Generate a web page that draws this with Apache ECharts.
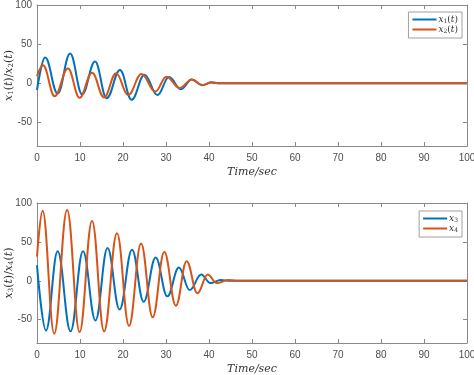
<!DOCTYPE html>
<html>
<head>
	<meta charset="utf-8">
	<script src="https://cdn.jsdelivr.net/npm/echarts@6/dist/echarts.min.js"></script>
</head>
<body style="margin:0;background:#fff">
	<div id="main" style="width:474px;height:375px;"></div>
<script type="text/javascript">
// values: extrema of each oscillation, then the flat tail
var x1Time = [0, 1.9, 4.8, 7.7, 10.5, 13.5, 16.2, 19.3, 22, 25, 28, 30.7, 33.5, 36, 38.4, 40.6, 42.5, 100];
var x1Val  = [-8.5, 33, -13, 38, -14, 28, -19, 17, -21, 11, -15, 8, -7.5, 5, -2.5, 1, 0, 0];
var x2Time = [0, 1.4, 4.1, 7.2, 9.9, 12.8, 15.6, 18.4, 21.2, 24.3, 27.5, 30.1, 33.2, 36, 38.5, 40.6, 42.5, 100];
var x2Val  = [9, 23, -16.5, 19, -18.5, 13.5, -18, 13, -15, 12, -10.5, 8.5, -6, 5, -2, 1.5, 0, 0];
var x3Time = [0, 2.1, 4.8, 7.8, 10.7, 13.6, 16.4, 19.2, 22.1, 24.8, 27.6, 30.3, 33, 35.5, 38.2, 40.3, 42.7, 45, 100];
var x3Val  = [20, -64, 38, -65, 38, -51, 42, -37, 40, -27, 30, -20, 17, -12, 8, -3, 1, 0, 0];
var x4Time = [0, 1.3, 4.0, 7.0, 9.9, 12.8, 15.6, 18.6, 21.4, 24.2, 26.9, 29.6, 32.3, 34.8, 37.3, 39.7, 41.8, 44.5, 47, 100];
var x4Val  = [31, 90, -68, 91, -66, 77, -65, 61, -58, 48, -47, 37, -32, 25, -16, 8, -3, 1, 0, 0];
var yTicks = [-50, 0, 50, 100];

function pairs(t, v){
	var out = [];
	for (var i = 0; i < t.length; i++) out.push([t[i], v[i]]);
	return out;
}

var blue = '#0072BD', orange = '#D95319';
var axisCol = '#8a8a8a', textCol = '#4d4d4d';
var mathRich = {
	i: {fontFamily: 'DejaVu Serif', fontStyle: 'italic', fontSize: 11, color: '#333'},
	n: {fontFamily: 'DejaVu Serif', fontSize: 11, color: '#333'},
	s: {fontFamily: 'DejaVu Serif', fontSize: 7, color: '#333', padding: [5, 0, 0, 0]}
};
var legRich = {
	i: {fontFamily: 'DejaVu Serif', fontStyle: 'italic', fontSize: 9, color: '#333', lineHeight: 11},
	n: {fontFamily: 'DejaVu Serif', fontSize: 9, color: '#333', lineHeight: 11},
	s: {fontFamily: 'DejaVu Serif', fontSize: 6, color: '#333', lineHeight: 11, padding: [3, 0, 0, 0]}
};

function xAx(gi, pos){
	var bottom = pos == 'bottom';
	return {
		type: 'value', gridIndex: gi, position: pos, min: 0, max: 100, interval: 10,
		axisLine: {show: true, onZero: false, lineStyle: {color: axisCol, width: 1}},
		axisTick: {show: true, inside: true, length: 4, lineStyle: {color: axisCol}},
		axisLabel: {show: bottom, margin: 7, color: textCol, fontSize: 10, fontFamily: 'Liberation Sans'},
		splitLine: {show: false},
		name: bottom ? '{i|Time/sec}' : '', nameLocation: 'middle', nameGap: 21, nameMoveOverlap: false,
		nameTextStyle: {rich: mathRich}
	};
}
function yAx(gi, pos, nm){
	var left = pos == 'left';
	return {
		type: 'value', gridIndex: gi, position: pos, min: -80, max: 100,
		axisLine: {show: true, onZero: false, lineStyle: {color: axisCol, width: 1}},
		axisTick: {show: true, inside: true, length: 4, customValues: yTicks, lineStyle: {color: axisCol}},
		axisLabel: {show: left, margin: 5, customValues: yTicks, color: textCol, fontSize: 10, fontFamily: 'Liberation Sans'},
		splitLine: {show: false},
		name: left ? nm : '', nameLocation: 'middle', nameGap: 22, nameRotate: 90, nameMoveOverlap: false,
		nameTextStyle: {rich: mathRich}
	};
}
function line(name, data, col, xi, yi){
	return {
		name: name, type: 'line', xAxisIndex: xi, yAxisIndex: yi, data: data,
		smooth: 0.4, smoothMonotone: 'x', symbol: 'none', animation: false,
		lineStyle: {color: col, width: 2}, itemStyle: {color: col}
	};
}
function legend(top, right, names){
	return {
		top: top, right: right, orient: 'vertical', data: names,
		icon: 'rect', itemWidth: 24, itemHeight: 2, itemGap: 1, padding: [3, 4, 4, 4],
		borderColor: '#a0a0a0', borderWidth: 1, borderRadius: 0, backgroundColor: '#fff',
		selectedMode: false,
		textStyle: {rich: legRich, padding: [0, 0, 0, -3]}
	};
}

var option = {
	backgroundColor: '#fff',
	grid: [
		{left: 37, right: 7, top: 5, height: 141, outerBoundsMode: 'none', containLabel: false},
		{left: 37, right: 7, top: 203, height: 140, outerBoundsMode: 'none', containLabel: false}
	],
	xAxis: [xAx(0, 'bottom'), xAx(0, 'top'), xAx(1, 'bottom'), xAx(1, 'top')],
	yAxis: [
		yAx(0, 'left', '{i|x}{s|1}{n|(}{i|t}{n|)/}{i|x}{s|2}{n|(}{i|t}{n|)}'), yAx(0, 'right'),
		yAx(1, 'left', '{i|x}{s|3}{n|(}{i|t}{n|)/}{i|x}{s|4}{n|(}{i|t}{n|)}'), yAx(1, 'right')
	],
	legend: [
		legend(12, 12, ['{i|x}{s|1}{n|(}{i|t}{n|)}', '{i|x}{s|2}{n|(}{i|t}{n|)}']),
		legend(211, 12, ['{i|x}{s|3}', '{i|x}{s|4}'])
	],
	series: [
		line('{i|x}{s|1}{n|(}{i|t}{n|)}', pairs(x1Time, x1Val), blue, 0, 0),
		line('{i|x}{s|2}{n|(}{i|t}{n|)}', pairs(x2Time, x2Val), orange, 0, 0),
		line('{i|x}{s|3}', pairs(x3Time, x3Val), blue, 2, 2),
		line('{i|x}{s|4}', pairs(x4Time, x4Val), orange, 2, 2)
	]
};
var myChart = echarts.init(document.getElementById('main'));
myChart.setOption(option);
</script>
</body>
</html>
